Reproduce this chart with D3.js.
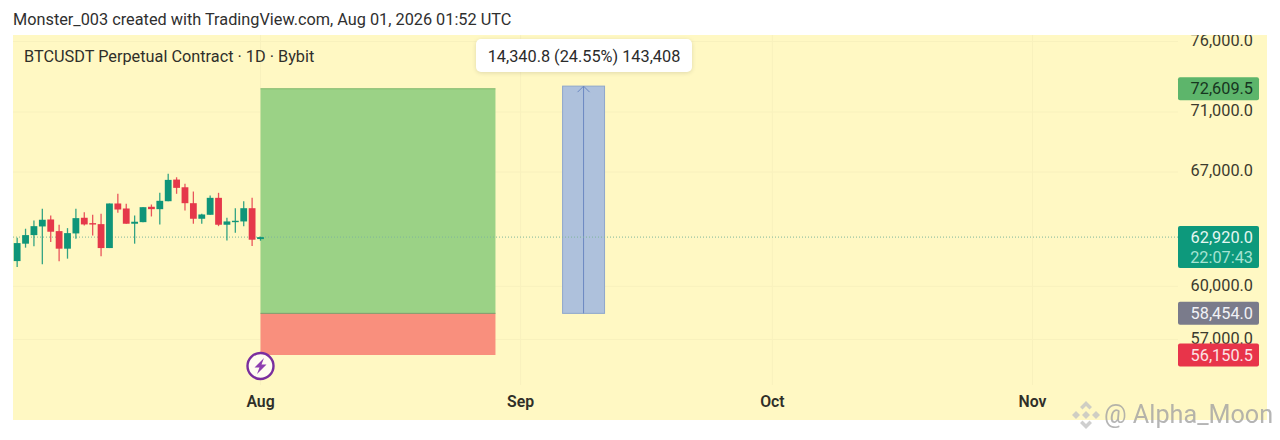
<!DOCTYPE html>
<html>
<head>
<meta charset="utf-8">
<style>
  html, body { margin: 0; padding: 0; background: #fff; }
  svg { display: block; }
  text { font-family: Roboto, sans-serif; }
</style>
</head>
<body>
<svg id="chart" width="1280" height="440"></svg>
<script src="https://cdn.jsdelivr.net/npm/d3@7"></script>
<script>
const candleDates = [
  '2026-07-03', '2026-07-04', '2026-07-05', '2026-07-06', '2026-07-07', '2026-07-08',
  '2026-07-09', '2026-07-10', '2026-07-11', '2026-07-12', '2026-07-13', '2026-07-14',
  '2026-07-15', '2026-07-16', '2026-07-17', '2026-07-18', '2026-07-19', '2026-07-20',
  '2026-07-21', '2026-07-22', '2026-07-23', '2026-07-24', '2026-07-25', '2026-07-26',
  '2026-07-27', '2026-07-28', '2026-07-29', '2026-07-30', '2026-07-31', '2026-08-01'
]
const opens = [
  61480, 62522, 63042, 63571, 64001, 63285, 62221, 63145, 64107, 63775,
  63713, 62258, 64996, 64683, 63738, 63836, 64790, 64640, 65139, 66514,
  66022, 65015, 64045, 64291, 65352, 63676, 63836, 63879, 64701, 62800
]
const closes = [
  62558, 63042, 63589, 63983, 63248, 62221, 63163, 64083, 63695, 63695,
  62258, 64996, 64620, 63738, 63860, 64765, 64640, 65164, 66495, 65984,
  65015, 64045, 64310, 65352, 63676, 63879, 63921, 64701, 62762, 62920
]
const highs = [
  62883, 63431, 63940, 64663, 64247, 63676, 63468, 64663, 64453, 64291,
  64353, 64996, 65606, 64977, 64247, 64765, 64933, 65669, 66882, 66663,
  66240, 65751, 64353, 65498, 65669, 64107, 64701, 65139, 65352, 62950
]
const lows = [
  61129, 62282, 62360, 61288, 62618, 61465, 61624, 62822, 63634, 63024,
  61762, 62258, 64416, 63738, 62522, 63836, 64187, 63695, 65139, 65606,
  64558, 63738, 63738, 64291, 63589, 62720, 63187, 63589, 62377, 62700
]

const priceTicks = [76000, 71000, 67000, 60000, 57000]
const monthTicks = ['2026-08-01', '2026-09-01', '2026-10-01', '2026-11-01']

const entryPrice = 58454
const targetPrice = 72609.5
const stopPrice = 56150.5
const lastPrice = 62920
const rangeTop = 72794.8
const positionDates = ['2026-08-01', '2026-08-29']
const rangeDates = ['2026-09-06', '2026-09-11']

const parseDay = d3.utcParse('%Y-%m-%d')
const plot = { left: 13, right: 1267, top: 35, bottom: 420 }
const textSize = 16.3

const svg = d3.select('#chart')

// log price axis, anchored on the labels on the right
const y = d3.scaleLog().domain([76000, 56150.5]).range([41.5, 355])
const x = d3.scaleUtc().domain([parseDay('2026-08-01'), parseDay('2026-11-01')]).range([260.5, 1032.5])

svg.append('text').attr('x', 13).attr('y', 25)
  .attr('font-size', textSize).attr('fill', '#2f2f2f')
  .text('Monster_003 created with TradingView.com, Aug 01, 2026 01:52 UTC')

svg.append('defs').append('clipPath').attr('id', 'plot-clip').append('rect')
  .attr('x', plot.left).attr('y', plot.top)
  .attr('width', plot.right - plot.left).attr('height', plot.bottom - plot.top)

const root = svg.append('g').attr('clip-path', 'url(#plot-clip)')
root.append('rect')
  .attr('x', plot.left).attr('y', plot.top)
  .attr('width', plot.right - plot.left).attr('height', plot.bottom - plot.top)
  .attr('fill', '#fff8c3')

// faint grid
root.selectAll('.hgrid').data(priceTicks).join('line')
  .attr('x1', plot.left).attr('x2', 1178)
  .attr('y1', d => y(d)).attr('y2', d => y(d))
  .attr('stroke', '#f8f1bd').attr('stroke-width', 1)
root.selectAll('.vgrid').data(monthTicks).join('line')
  .attr('x1', d => x(parseDay(d))).attr('x2', d => x(parseDay(d)))
  .attr('y1', plot.top).attr('y2', 385)
  .attr('stroke', '#f8f1bd').attr('stroke-width', 1)

// long position tool
const posX0 = x(parseDay(positionDates[0]))
const posX1 = x(parseDay(positionDates[1]))
root.append('rect').attr('x', posX0).attr('y', y(targetPrice))
  .attr('width', posX1 - posX0).attr('height', y(entryPrice) - y(targetPrice))
  .attr('fill', '#9bd286')
root.append('rect').attr('x', posX0).attr('y', y(entryPrice))
  .attr('width', posX1 - posX0).attr('height', y(stopPrice) - y(entryPrice))
  .attr('fill', '#f98f7d')
root.append('line').attr('x1', posX0).attr('x2', posX1)
  .attr('y1', y(entryPrice)).attr('y2', y(entryPrice))
  .attr('stroke', '#7d9c6c').attr('stroke-width', 1)
root.append('line').attr('x1', posX0).attr('x2', posX1)
  .attr('y1', y(targetPrice)).attr('y2', y(targetPrice))
  .attr('stroke', '#7fb76c').attr('stroke-width', 1)

// price range tool
const rngX0 = x(parseDay(rangeDates[0]))
const rngX1 = x(parseDay(rangeDates[1]))
const rngMid = (rngX0 + rngX1) / 2
root.append('rect').attr('x', rngX0).attr('y', y(rangeTop))
  .attr('width', rngX1 - rngX0).attr('height', y(entryPrice) - y(rangeTop))
  .attr('fill', '#aec1dc').attr('stroke', '#8ea6cc').attr('stroke-width', 1)
root.append('line').attr('x1', rngMid).attr('x2', rngMid)
  .attr('y1', y(rangeTop)).attr('y2', y(entryPrice))
  .attr('stroke', '#6b88c2').attr('stroke-width', 1)
root.append('path')
  .attr('d', d3.line()([[rngMid - 6, y(rangeTop) + 6], [rngMid, y(rangeTop)], [rngMid + 6, y(rangeTop) + 6]]))
  .attr('fill', 'none').attr('stroke', '#6b88c2').attr('stroke-width', 1)

// last price line
root.append('line').attr('x1', plot.left).attr('x2', 1178)
  .attr('y1', y(lastPrice)).attr('y2', y(lastPrice))
  .attr('stroke', '#7fb59a').attr('stroke-width', 1).attr('stroke-dasharray', '1,2')

// candles
const green = '#0f9579'
const red = '#e5384a'
const candles = candleDates.map((d, i) => ({
  date: parseDay(d), open: opens[i], close: closes[i], high: highs[i], low: lows[i]
}))
const candleG = root.selectAll('.candle').data(candles).join('g').attr('class', 'candle')
candleG.append('line')
  .attr('x1', d => x(d.date)).attr('x2', d => x(d.date))
  .attr('y1', d => y(d.high)).attr('y2', d => y(d.low))
  .attr('stroke', d => d.close >= d.open ? green : red).attr('stroke-width', 1.3).attr('opacity', 0.85)
candleG.append('rect')
  .attr('x', d => x(d.date) - 3.4).attr('width', 6.8)
  .attr('y', d => y(Math.max(d.open, d.close)))
  .attr('height', d => Math.max(1.4, Math.abs(y(d.open) - y(d.close))))
  .attr('fill', d => d.close >= d.open ? green : red)

// axes
const yAxis = d3.axisLeft(y).tickValues(priceTicks).tickFormat(d3.format(',.1f')).tickSize(0).tickPadding(0)
const yG = root.append('g').attr('transform', 'translate(1253,-1.5)').call(yAxis)
yG.select('.domain').remove()
yG.selectAll('text').attr('font-size', textSize).attr('font-family', 'Roboto, sans-serif').attr('fill', '#3c3b2e')

const xAxis = d3.axisBottom(x).tickValues(monthTicks.map(parseDay)).tickFormat(d3.utcFormat('%b')).tickSize(0).tickPadding(0)
const xG = root.append('g').attr('transform', 'translate(-0.5,396)').call(xAxis)
xG.select('.domain').remove()
xG.selectAll('text').attr('font-size', 15.8).attr('font-weight', 600).attr('font-family', 'Roboto, sans-serif').attr('fill', '#2f2f28')

// legend
root.append('text').attr('x', 24).attr('y', 62)
  .attr('font-size', textSize).attr('fill', '#2f2f2a')
  .text('BTCUSDT Perpetual Contract · 1D · Bybit')

// price badges
const badgeX = 1178, badgeW = 81
function badge(price, h, fill, textFill, lines) {
  const cy = y(price)
  const top = lines.length > 1 ? cy - 11 : cy - h / 2
  svg.append('rect').attr('x', badgeX).attr('y', top).attr('width', badgeW).attr('height', h)
    .attr('rx', 2).attr('fill', fill)
  lines.forEach((t, i) => {
    svg.append('text').attr('x', 1253).attr('y', top + 17 + i * 20)
      .attr('text-anchor', 'end').attr('font-size', textSize)
      .attr('fill', i ? '#a5e3d2' : textFill).text(t)
  })
}
const fmt = d3.format(',.1f')
badge(targetPrice, 23, '#5db56b', '#17361f', [fmt(targetPrice)])
badge(lastPrice, 42, '#0d997c', '#e4f7f1', [fmt(lastPrice), '22:07:43'])
badge(entryPrice, 23, '#7a7b8b', '#f1f1f5', [fmt(entryPrice)])
badge(stopPrice, 23, '#e8344a', '#fbe3e6', [fmt(stopPrice)])

// range tooltip
svg.append('rect').attr('x', 476).attr('y', 39).attr('width', 216).attr('height', 33)
  .attr('rx', 5).attr('fill', '#fff')
  .style('filter', 'drop-shadow(0 1px 2px rgba(0,0,0,0.12))')
svg.append('text').attr('x', 584).attr('y', 61.5).attr('text-anchor', 'middle')
  .attr('font-size', textSize).attr('fill', '#2b2b2b')
  .text('14,340.8 (24.55%) 143,408')

// lightning marker under the first August bar
const markX = x(parseDay('2026-08-01'))
svg.append('circle').attr('cx', markX).attr('cy', 366).attr('r', 13)
  .attr('fill', '#fffdf0').attr('stroke', '#7a2e9e').attr('stroke-width', 2.4)
svg.append('path')
  .attr('transform', `translate(${markX},366)`)
  .attr('d', 'M3.5,-8 L-6,1.5 L-1,1.5 L-3.5,8 L6,-1.5 L1,-1.5 Z')
  .attr('fill', '#8e3fb0')

// watermark
const wm = svg.append('g').attr('opacity', 0.8)
wm.append('text').attr('x', 1104).attr('y', 423).attr('font-size', 25.2)
  .attr('font-family', 'Roboto, sans-serif').attr('fill', '#a3a3a3').text('@ Alpha_Moon')
wm.append('g').attr('transform', 'translate(1086,415)')
  .selectAll('path').data([
    'M0,-14 L6,-8 L3.5,-5.5 L0,-9 L-3.5,-5.5 L-6,-8 Z',
    'M0,14 L6,8 L3.5,5.5 L0,9 L-3.5,5.5 L-6,8 Z',
    'M-14,0 L-10,-4 L-6,0 L-10,4 Z',
    'M14,0 L10,-4 L6,0 L10,4 Z',
    'M0,-4 L4,0 L0,4 L-4,0 Z'
  ]).join('path').attr('d', d => d).attr('fill', '#c4c4c4')
</script>
</body>
</html>
